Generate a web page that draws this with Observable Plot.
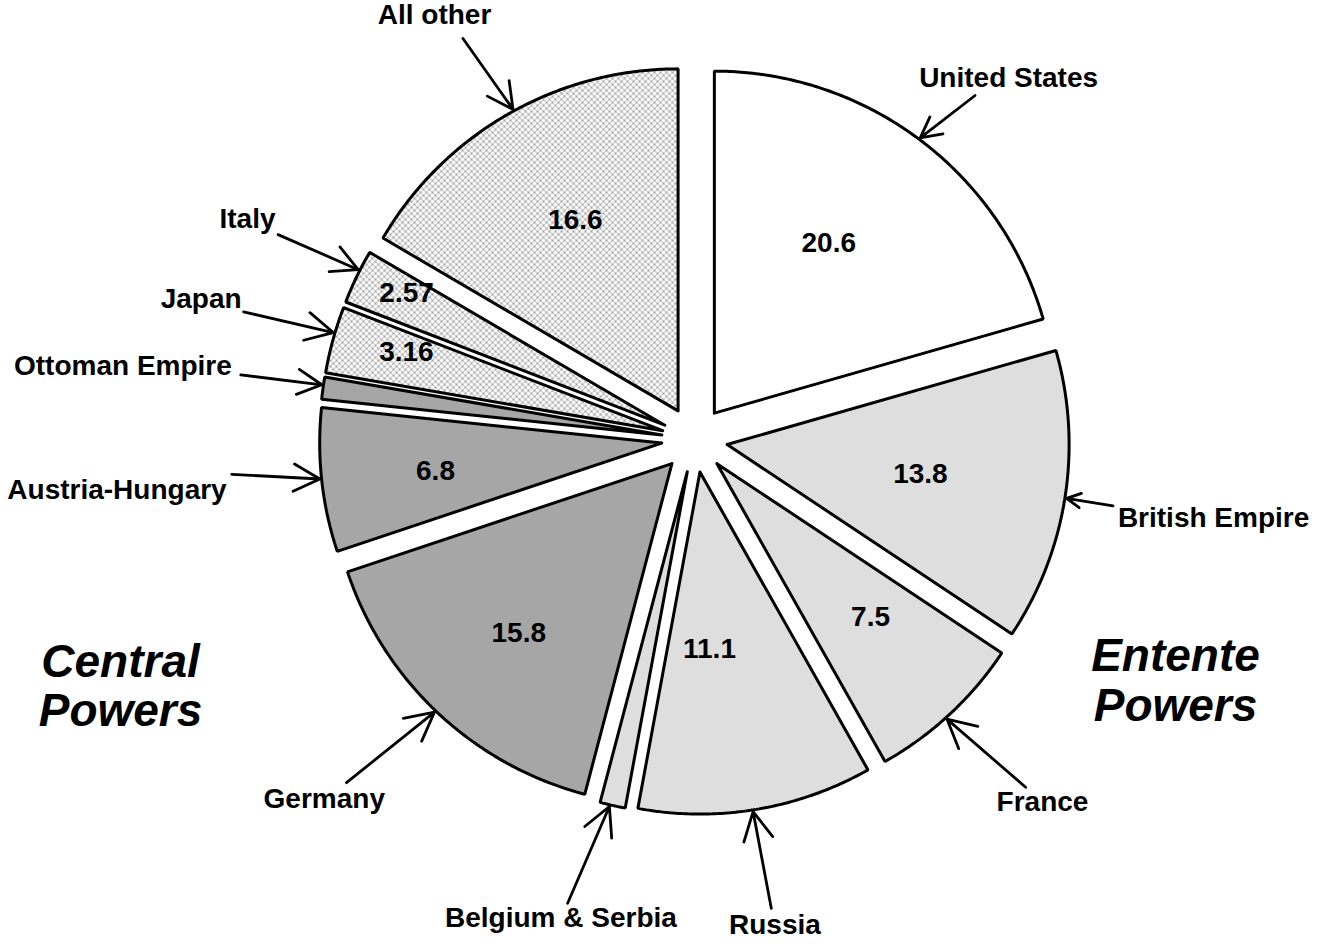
<!DOCTYPE html>
<html><head><meta charset="utf-8">
<script src="https://cdn.jsdelivr.net/npm/d3@7"></script>
<script src="https://cdn.jsdelivr.net/npm/@observablehq/plot@0.6"></script>
<style>body{margin:0;background:#fff;} svg{display:block;}</style>
</head><body><div id="chart"></div>
<script>
// ---- data ----
const categories = ["United States","British Empire","France","Russia","Belgium & Serbia","Germany","Austria-Hungary","Ottoman Empire","Japan","Italy","All other"];
const shares = [20.6, 13.8, 7.5, 11.1, 1.2, 15.8, 6.8, 1.05, 3.16, 2.57, 16.6];
const valueLabels = ["20.6","13.8","7.5","11.1","","15.8","6.8","","3.16","2.57","16.6"];
const groups = ["US","Entente","Entente","Entente","Entente","Central","Central","Central","Other","Other","Other"];
const groupLabels = ["Central\nPowers","Entente\nPowers"];

// ---- layout (polar: degrees clockwise from top, radius in pie radii) ----
const calloutTipAngle = [36.8, 99.0, 138.0, 171.1, 193.1, 223.7, 264.0, 278.4, 286.6, 296.9, 331.3];
const calloutTail = [[39.2,1.298],[99.0,1.239],[136.4,1.404],[170.7,1.389],[195.3,1.406],[225.4,1.429],[265.7,1.357],[278.1,1.340],[285.8,1.370],[296.2,1.357],[330.0,1.354]];
const calloutLabel = [[41.0,1.40],[98.6,1.535],[136.2,1.47],[170.6,1.44],[195.6,1.452],[225.8,1.51],[265.0,1.695],[277.3,1.685],[285.9,1.50],[296.3,1.458],[328.5,1.455]];
const valueLabelPos = [[34.4,0.695],[98.6,0.668],[135.3,0.732],[175.9,0.613],[0,0],[222.2,0.765],[263.0,0.763],[0,0],[286.8,0.88],[296.9,0.944],[331.5,0.73]];
const groupLabelPos = [[246.8,1.826],[116.6,1.573]];
const groupFill = {US: "#ffffff", Entente: "#dedede", Central: "#a6a6a6", Other: "url(#xhatch)"};

const W = 1320, H = 944, CX = 694, CY = 439, R = 342, EXPLODE = 33 / 342;
const rad = (deg) => deg * Math.PI / 180;
const polar = (deg, r) => ({x: r * Math.sin(rad(deg)), y: -r * Math.cos(rad(deg))});

const arcs = d3.pie().sort(null).value(d => d)(shares);
const offsets = arcs.map(a => {
  const m = (a.startAngle + a.endAngle) / 2;
  return {x: EXPLODE * Math.sin(m), y: -EXPLODE * Math.cos(m)};
});

const slicePts = [];
arcs.forEach((a, i) => {
  const o = offsets[i];
  const fill = groupFill[groups[i]];
  const push = (x, y) => slicePts.push({name: categories[i], x, y, fill});
  push(o.x, o.y);
  const n = Math.max(4, Math.ceil((a.endAngle - a.startAngle) / rad(0.5)));
  for (let k = 0; k <= n; k++) {
    const t = a.startAngle + (a.endAngle - a.startAngle) * k / n;
    push(o.x + Math.sin(t), o.y - Math.cos(t));
  }
  push(o.x, o.y);
});

const callouts = categories.map((c, i) => {
  const o = offsets[i];
  const tip = polar(calloutTipAngle[i], 1);
  const tail = polar(...calloutTail[i]);
  const lab = polar(...calloutLabel[i]);
  return {name: c, x1: tail.x, y1: tail.y, x2: o.x + tip.x * 1.005, y2: o.y + tip.y * 1.005, lx: lab.x, ly: lab.y};
});

const values = valueLabels.map((v, i) => ({v, ...polar(...valueLabelPos[i])})).filter(d => d.v !== "");
const groupTexts = groupLabels.map((g, i) => ({g, ...polar(...groupLabelPos[i])}));

const chart = Plot.plot({
  width: W, height: H,
  margin: 0,
  x: {domain: [-CX / R, (W - CX) / R], range: [0, W], axis: null},
  y: {domain: [-CY / R, (H - CY) / R], range: [0, H], axis: null},
  color: {type: "identity"},
  style: {fontFamily: "'Liberation Sans', Arial, sans-serif", background: "#fff"},
  marks: [
    Plot.line(slicePts, {x: "x", y: "y", z: "name", fill: "fill", stroke: "#000", strokeWidth: 3, strokeLinejoin: "miter", curve: "linear"}),
    Plot.arrow(callouts, {x1: "x1", y1: "y1", x2: "x2", y2: "y2", stroke: "#000", strokeWidth: 2.8, headLength: 17, headAngle: 55, bend: 0}),
    Plot.text(callouts, {x: "lx", y: "ly", text: "name", fontSize: 28, fontWeight: "bold", fill: "#000"}),
    Plot.text(values, {x: "x", y: "y", text: "v", fontSize: 28, fontWeight: "bold", fill: "#000"}),
    Plot.text(groupTexts, {x: "x", y: "y", text: "g", fontSize: 46, fontWeight: "bold", fontStyle: "italic", lineHeight: 1.08, fill: "#000"})
  ]
});

// hatch pattern definition
const defs = d3.select(chart).insert("defs", ":first-child");
const pat = defs.append("pattern").attr("id", "xhatch").attr("patternUnits", "userSpaceOnUse").attr("width", 6).attr("height", 6);
pat.append("rect").attr("width", 6).attr("height", 6).attr("fill", "#ffffff");
pat.append("path").attr("d", "M-1,-1L7,7M-1,7L7,-1").attr("stroke", "#a2a2a2").attr("stroke-width", 1);

document.getElementById("chart").appendChild(chart);
</script>
</body></html>
